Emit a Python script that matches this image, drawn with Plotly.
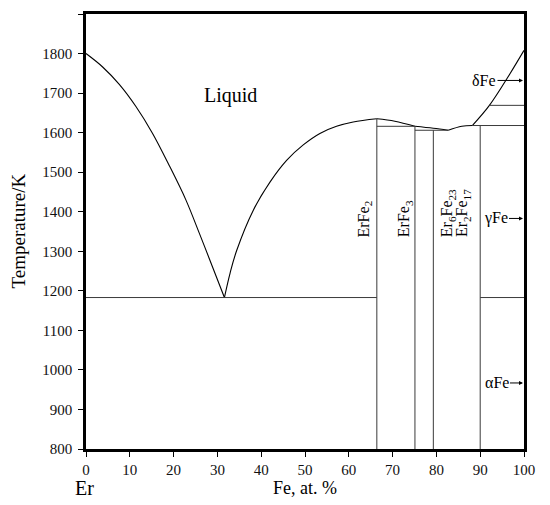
import plotly.graph_objects as go

# ---- data (Er-Fe phase diagram) ----
# liquidus branches
liq_left_x = [0, 3.8, 7.6, 11.4, 15.2, 19.0, 22.8, 26.0, 28.2, 31.6]
liq_left_T = [1800, 1766, 1722, 1666, 1598, 1517, 1430, 1342, 1280, 1183]

liq_mid_x = [31.6, 32.9, 34.4, 38.2, 42.0, 45.8, 49.6, 53.4, 57.2, 61.0, 66.4]
liq_mid_T = [1183, 1245, 1302, 1404, 1475, 1530, 1569, 1598, 1616, 1627, 1635]

liq_a_x = [66.4, 70.5, 75.1]
liq_a_T = [1635, 1629, 1616]

liq_b_x = [75.1, 79.3, 82.7]
liq_b_T = [1616, 1611, 1606]

liq_c_x = [82.7, 85.8, 88.2]
liq_c_T = [1606, 1616, 1618]

liq_fe_x = [88.2, 92.1, 96.8, 100]
liq_fe_T = [1618, 1669, 1749, 1808]

# intermetallic compounds (composition, top temperature)
compound_names = ["ErFe<sub>2</sub>", "ErFe<sub>3</sub>", "Er<sub>6</sub>Fe<sub>23</sub>", "Er<sub>2</sub>Fe<sub>17</sub>"]
compound_x = [66.4, 75.1, 79.3, 90.0]
compound_top = [1635, 1616, 1606, 1618]
compound_label_x = [63.6, 72.9, 82.6, 86.0]

# invariant horizontal lines: (from x, to x, T)
iso_x0 = [0, 90.0, 66.4, 75.1, 88.2, 92.1]
iso_x1 = [66.4, 100, 75.1, 82.7, 100, 100]
iso_T = [1183, 1183, 1616, 1606, 1618, 1669]

# Fe allotrope labels
fe_labels = ["δFe", "γFe", "αFe"]
fe_label_T = [1732, 1383, 967]
fe_label_ax = [-40, -28.5, -27.5]

x_ticks = list(range(0, 101, 10))
y_ticks = list(range(800, 1901, 100))

FONT = "Liberation Serif, Times New Roman, serif"

fig = go.Figure()

curve_style = dict(color="#000000", width=1.1, shape="spline", smoothing=1.0)
for xs, ts in [(liq_left_x, liq_left_T), (liq_mid_x, liq_mid_T), (liq_a_x, liq_a_T),
               (liq_b_x, liq_b_T), (liq_c_x, liq_c_T), (liq_fe_x, liq_fe_T)]:
    fig.add_trace(go.Scatter(x=xs, y=ts, mode="lines", line=curve_style,
                             hoverinfo="skip", showlegend=False))

line_style = dict(color="#3a3a3a", width=1)
for cx, ct in zip(compound_x, compound_top):
    fig.add_trace(go.Scatter(x=[cx, cx], y=[800, ct], mode="lines", line=line_style,
                             hoverinfo="skip", showlegend=False))
for a, b, t in zip(iso_x0, iso_x1, iso_T):
    fig.add_trace(go.Scatter(x=[a, b], y=[t, t], mode="lines", line=line_style,
                             hoverinfo="skip", showlegend=False))

annotations = []
annotations.append(dict(x=32.9, y=1694, xref="x", yref="y", text="Liquid", showarrow=False,
                        xanchor="center", yanchor="middle",
                        font=dict(family=FONT, size=20, color="#000")))
for name, lx in zip(compound_names, compound_label_x):
    annotations.append(dict(x=lx, y=1330, xref="x", yref="y", text=name, showarrow=False,
                            textangle=-90, xanchor="center", yanchor="bottom",
                            font=dict(family=FONT, size=16, color="#000")))
for name, t, ax in zip(fe_labels, fe_label_T, fe_label_ax):
    annotations.append(dict(x=100, y=t, xref="x", yref="y", text=name, showarrow=True,
                            ax=ax, ay=0, arrowhead=2, arrowsize=0.8, arrowwidth=1,
                            arrowcolor="#000", standoff=1,
                            font=dict(family=FONT, size=16, color="#000")))
annotations.append(dict(x=0, y=0, xref="x", yref="paper", text="Er", showarrow=False,
                        xanchor="center", yanchor="middle",
                        yshift=-39, xshift=-2, font=dict(family=FONT, size=20, color="#000")))
annotations.append(dict(x=102.3, y=0, xref="x", yref="paper", text="Fe", showarrow=False,
                        xanchor="center", yanchor="middle",
                        yshift=-39, font=dict(family=FONT, size=20, color="#000")))
annotations.append(dict(x=50, y=0, xref="x", yref="paper", text="Fe, at. %", showarrow=False,
                        xanchor="center", yanchor="middle",
                        yshift=-39, font=dict(family=FONT, size=18, color="#000")))
annotations.append(dict(x=0, y=0.5, xref="paper", yref="paper", text="Temperature/K",
                        showarrow=False, textangle=-90, xshift=-68,
                        xanchor="center", yanchor="middle",
                        font=dict(family=FONT, size=19, color="#000")))

axis_common = dict(showline=True, linecolor="#000", linewidth=2.5, mirror=True,
                   ticks="outside", ticklen=5, tickwidth=1.2, tickcolor="#000",
                   showgrid=False, zeroline=False, automargin=False,
                   tickfont=dict(family=FONT, size=15, color="#111"))

# page body has an 8px default margin, so the figure is 8px smaller and margins compensate
fig.update_layout(
    template="none",
    width=542, height=497,
    margin=dict(l=78, r=26, t=6, b=56, pad=0),
    paper_bgcolor="#ffffff", plot_bgcolor="#ffffff",
    xaxis=dict(range=[0, 100], tickvals=x_ticks, **axis_common),
    yaxis=dict(range=[800, 1900], tickvals=y_ticks, ticklabelstandoff=3, **axis_common),
    annotations=annotations,
    showlegend=False,
)

fig.write_html("out.html")
